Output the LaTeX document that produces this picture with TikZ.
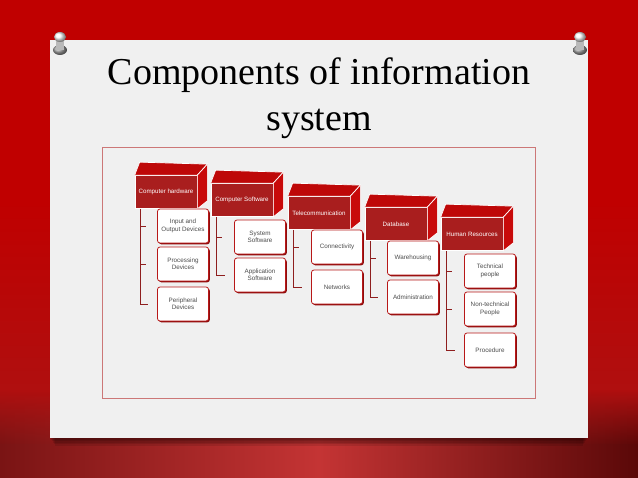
\documentclass[tikz,border=0pt]{standalone}
\usepackage{fontspec}
\newfontfamily\boxfont{Liberation Sans}
\newfontfamily\titlefont{Liberation Serif}
\usetikzlibrary{shadows,fadings}
\definecolor{slidered}{HTML}{C00000}
\definecolor{lowred}{HTML}{A81616}
\definecolor{paper}{HTML}{F0F0F0}
\definecolor{hdfront}{HTML}{A91E1E}
\definecolor{hdtop}{HTML}{BE0808}
\definecolor{hdside}{HTML}{C80A0A}
\definecolor{itemred}{HTML}{B81818}
\definecolor{itemshadow}{HTML}{8E0C0C}
\definecolor{brkred}{HTML}{8E1E1E}
\definecolor{framered}{HTML}{CC7777}
\definecolor{bandleft}{HTML}{7A1414}
\definecolor{bandmid}{HTML}{C43434}
\definecolor{bandright}{HTML}{5A0808}
\tikzset{
  hdbox/.style={draw=white, line width=.7pt, fill=hdfront, text=white,
    minimum width=62pt, minimum height=33pt, inner sep=1pt,
    font=\boxfont\fontsize{6.2}{7.4}\selectfont},
  itembox/.style={draw=itemred, line width=.8pt, fill=white, rounded corners=2.5pt,
    minimum width=51pt, minimum height=34pt, inner sep=1pt, align=center,
    text=black!70, font=\boxfont\fontsize{6.3}{7.4}\selectfont,
    drop shadow={shadow xshift=1.3pt, shadow yshift=-1.3pt, fill=itemshadow, opacity=1}},
  brk/.style={draw=brkred, line width=.8pt}
}
\begin{document}
\begin{tikzpicture}[x=1pt,y=-1pt]
	\useasboundingbox (0,0) rectangle (638,478);
	\fill[slidered] (0,0) rectangle (638,478);
	\shade[top color=slidered, bottom color=lowred] (0,200) rectangle (638,478);
	\shade[left color=bandleft, right color=bandright, middle color=bandmid,
	  path fading=north] (0,390) rectangle (638,446);
	\shade[left color=bandleft, right color=bandright, middle color=bandmid]
	  (0,445) rectangle (638,478);
	% paper
	\foreach \i in {1,...,5}
	  \fill[black,opacity=.1] (50+\i,438) rectangle (588-\i,438+1.6*\i);
	\fill[paper] (50,40) rectangle (588,438);
	% pins
	\foreach \px in {60,580} {
	  \shade[ball color=gray!70] (\px,50) ellipse (7 and 5);
	  \fill[gray!55] (\px-4,38) rectangle (\px+4,50);
	  \shade[ball color=white] (\px,37) ellipse (6 and 5);
	}
	% title
	\node[font=\titlefont\fontsize{38}{46}\selectfont, align=center] (title) at (319,98)
	  {Components of information\\system};
	\draw[framered, line width=.6pt] (102,147) rectangle (535,398);
	% headers
	\node[hdbox] (h1) at (166,192) {Computer hardware};
	\node[hdbox] (h2) at (242,200) {Computer Software};
	\node[hdbox] (h3) at (319,213) {Telecommunication};
	\node[hdbox] (h4) at (396,224) {Database};
	\node[hdbox] (h5) at (472,234) {Human Resources};
	\foreach \h in {h1,h2,h3,h4,h5} {
	  \filldraw[hdtop, draw=white, line width=.7pt] (\h.north west) -- ++(5,-13)
	    -- ([shift={(10,-11)}]\h.north east) -- (\h.north east) -- cycle;
	  \filldraw[hdside, draw=white, line width=.7pt] (\h.north east) -- ([shift={(10,-11)}]\h.north east)
	    -- ([shift={(10,-8)}]\h.south east) -- (\h.south east) -- cycle;
	  \coordinate (b\h) at ([xshift=6pt]\h.south west);
	}
	% items
	\node[itembox] (c11) at (183,226) {Input and\\Output Devices};
	\node[itembox] (c12) at (183,264) {Processing\\Devices};
	\node[itembox] (c13) at (183,304) {Peripheral\\Devices};
	\node[itembox] (c21) at (260,237) {System\\Software};
	\node[itembox] (c22) at (260,275) {Application\\Software};
	\node[itembox] (c31) at (337,247) {Connectivity};
	\node[itembox] (c32) at (337,287) {Networks};
	\node[itembox] (c41) at (413,258) {Warehousing};
	\node[itembox] (c42) at (413,297) {Administration};
	\node[itembox] (c51) at (490,271) {Technical\\people};
	\node[itembox] (c52) at (490,309) {Non-technical\\People};
	\node[itembox] (c53) at (490,350) {Procedure};
	% brackets
	\draw[brk] (bh1) |- ([xshift=-9pt]c13.west);
	\draw[brk] (bh1 |- c11.west) -- +(5,0);
	\draw[brk] (bh1 |- c12.west) -- +(5,0);
	\draw[brk] (bh2) |- ([xshift=-9pt]c22.west);
	\draw[brk] (bh2 |- c21.west) -- +(5,0);
	\draw[brk] (bh3) |- ([xshift=-9pt]c32.west);
	\draw[brk] (bh3 |- c31.west) -- +(5,0);
	\draw[brk] (bh4) |- ([xshift=-9pt]c42.west);
	\draw[brk] (bh4 |- c41.west) -- +(5,0);
	\draw[brk] (bh5) |- ([xshift=-9pt]c53.west);
	\draw[brk] (bh5 |- c51.west) -- +(5,0);
	\draw[brk] (bh5 |- c52.west) -- +(5,0);
\end{tikzpicture}
\end{document}
